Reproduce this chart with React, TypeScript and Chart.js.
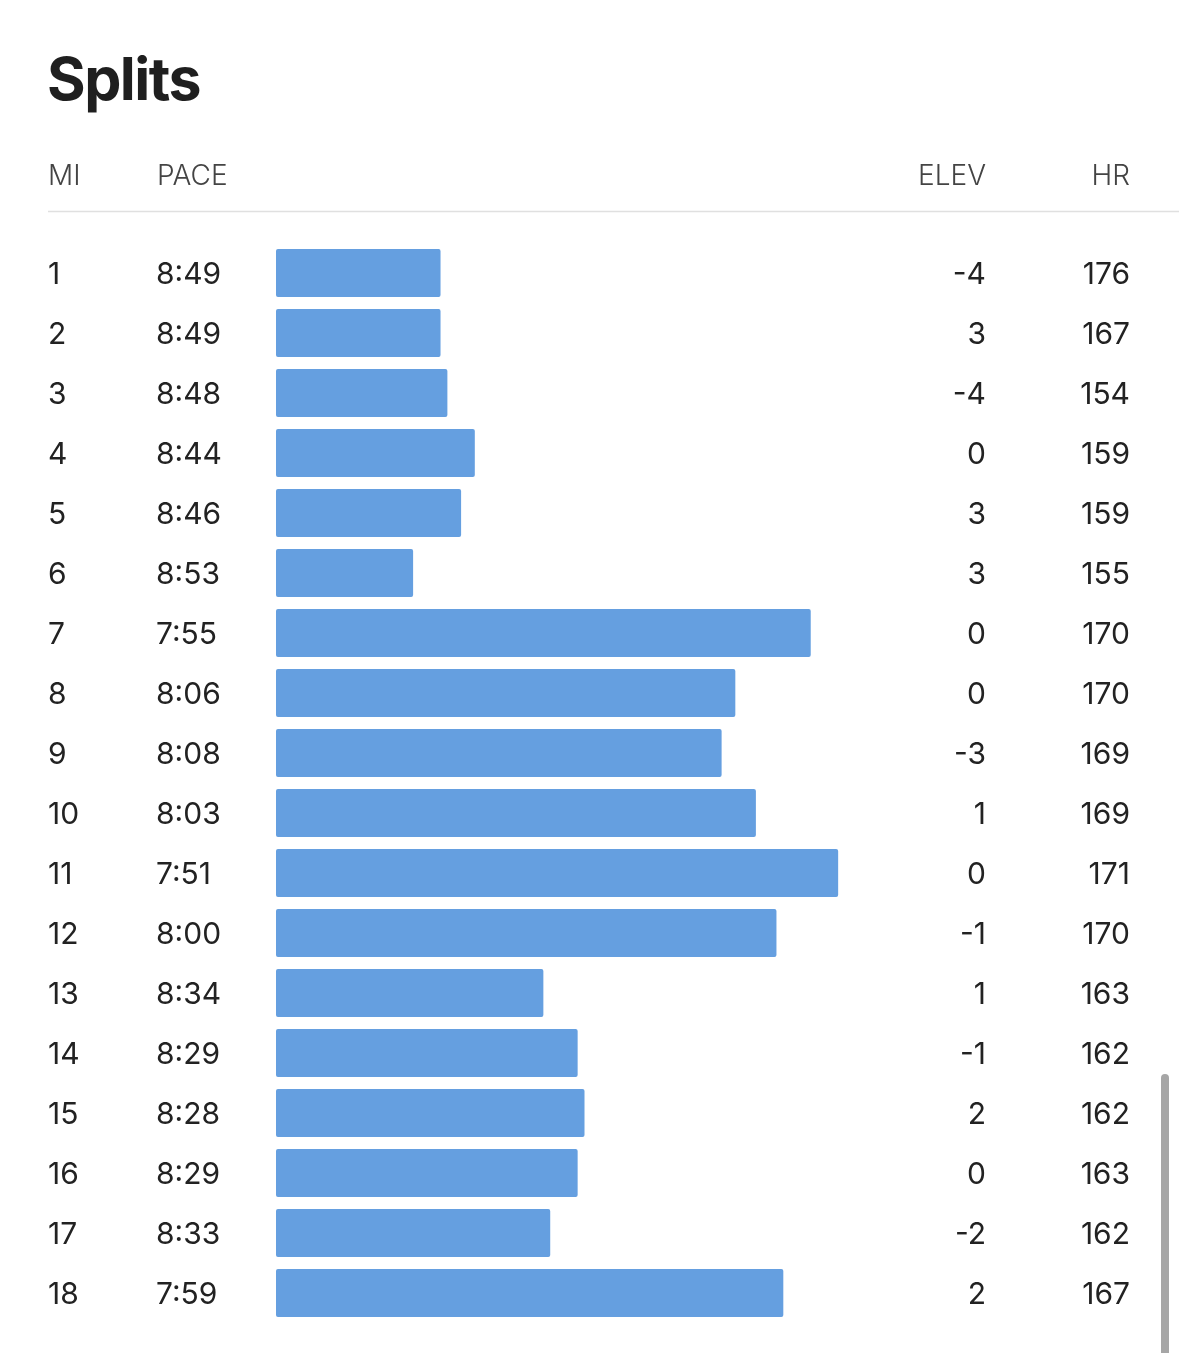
import { useEffect, useRef } from "react";
import { Chart, registerables, Plugin } from "chart.js";

Chart.register(...registerables);

// splits data, one entry per mile
const miles = ["1", "2", "3", "4", "5", "6", "7", "8", "9", "10", "11", "12", "13", "14", "15", "16", "17", "18"];
const paces = ["8:49", "8:49", "8:48", "8:44", "8:46", "8:53", "7:55", "8:06", "8:08", "8:03", "7:51", "8:00", "8:34", "8:29", "8:28", "8:29", "8:33", "7:59"];
const elevations = [-4, 3, -4, 0, 3, 3, 0, 0, -3, 1, 0, -1, 1, -1, 2, 0, -2, 2];
const heartRates = [176, 167, 154, 159, 159, 155, 170, 170, 169, 169, 171, 170, 163, 162, 162, 163, 162, 167];
const headers = ["MI", "PACE", "ELEV", "HR"];

// slowest pace shown as an empty bar (9:13)
const PACE_BASE = 553;
const PACE_FAST = 463;

const toSeconds = (p: string) => {
  const [m, s] = p.split(":").map(Number);
  return m * 60 + s;
};

const FONT = "Inter, 'Noto Sans', sans-serif";

const tablePlugin: Plugin<"bar"> = {
  id: "splitsTable",
  afterDatasetsDraw(chart) {
    const { ctx, width } = chart;
    const y = chart.scales.y;
    ctx.save();

    // title
    ctx.fillStyle = "#1f1f1f";
    ctx.font = `700 59px ${FONT}`;
    (ctx as any).letterSpacing = "-1.5px";
    ctx.textAlign = "left";
    ctx.textBaseline = "alphabetic";
    ctx.fillText("Splits", 47, 100);
    (ctx as any).letterSpacing = "0px";

    // header row
    ctx.fillStyle = "#444444";
    ctx.font = `300 28px ${FONT}`;
    ctx.textAlign = "left";
    ctx.fillText(headers[0], 48, 185);
    ctx.fillText(headers[1], 157, 185);
    ctx.textAlign = "right";
    ctx.fillText(headers[2], 986, 185);
    ctx.fillText(headers[3], 1130, 185);

    // separator
    ctx.strokeStyle = "#e0e0e0";
    ctx.lineWidth = 1.5;
    ctx.beginPath();
    ctx.moveTo(48, 211.5);
    ctx.lineTo(width, 211.5);
    ctx.stroke();

    // rows
    ctx.fillStyle = "#222222";
    ctx.font = `400 30px ${FONT}`;
    miles.forEach((mi, i) => {
      const cy = y.getPixelForValue(i) + 11;
      ctx.textAlign = "left";
      ctx.fillText(mi, 48, cy);
      ctx.fillText(paces[i], 156, cy);
      ctx.textAlign = "right";
      ctx.fillText(String(elevations[i]), 986, cy);
      ctx.fillText(String(heartRates[i]), 1130, cy);
    });

    ctx.restore();
  },
};

export default function App() {
  const chartRef = useRef<HTMLCanvasElement>(null);

  useEffect(() => {
    document.body.style.margin = "0";
    let chartInstance: Chart<"bar"> | undefined;

    if (chartRef.current) {
      chartInstance = new Chart(chartRef.current, {
        type: "bar",
        data: {
          labels: miles,
          datasets: [
            {
              data: paces.map((p) => [PACE_BASE, toSeconds(p)]) as any,
              backgroundColor: "#659fe0",
              borderRadius: 2,
              borderSkipped: false,
              barPercentage: 0.8,
              categoryPercentage: 1,
            },
          ],
        },
        options: {
          indexAxis: "y",
          responsive: true,
          maintainAspectRatio: false,
          animation: false,
          layout: {
            padding: { left: 276, right: 286, top: 243, bottom: 30 },
          },
          scales: {
            x: {
              type: "linear",
              reverse: true,
              min: PACE_FAST,
              max: PACE_BASE,
              display: false,
            },
            y: {
              display: false,
            },
          },
          plugins: {
            legend: { display: false },
            tooltip: { enabled: false },
          },
        },
        plugins: [tablePlugin],
      });
    }

    // Clean up the chart on component unmount
    return () => {
      if (chartInstance) {
        chartInstance.destroy();
      }
    };
  }, []);

  return (
    <div style={{ position: "relative", width: 1179, height: 1353, background: "#fff", overflow: "hidden" }}>
      <canvas ref={chartRef}></canvas>
      <div
        style={{
          position: "absolute",
          left: 1161,
          top: 1074,
          width: 8,
          height: 300,
          borderRadius: 4,
          background: "#a6a6a6",
        }}
      />
    </div>
  );
}
